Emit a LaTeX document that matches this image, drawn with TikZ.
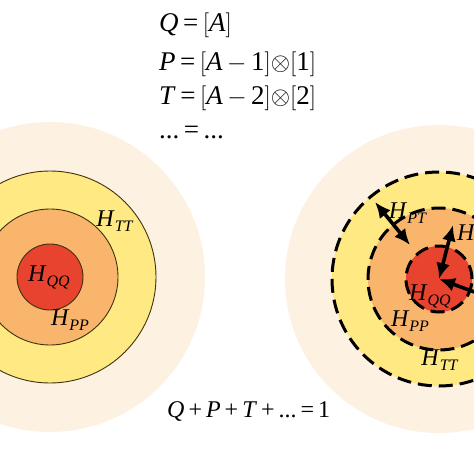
\documentclass[tikz,border=0pt]{standalone}
\usepackage{fontspec}
\setmainfont{Liberation Serif}
\usepackage{xcolor}
\usetikzlibrary{arrows.meta}
\usetikzlibrary{positioning}
\definecolor{peach}{HTML}{FDF1E2}
\definecolor{lemon}{HTML}{FEE982}
\definecolor{apricot}{HTML}{F9B56C}
\definecolor{brick}{HTML}{E8432F}
\definecolor{rim}{HTML}{3D3210}
\newcommand{\hlab}[1]{\textit{H}\raisebox{-5pt}{\fontsize{16}{16}\selectfont\textit{#1}}}
\newcommand{\itv}[1]{\textit{#1}}

\begin{document}
\begin{tikzpicture}[x=1pt,y=-1pt]
\tikzset{ring/.style={circle,inner sep=0pt,outer sep=0pt},
  solidring/.style={ring,draw=rim,line width=0.9pt},
  dashring/.style={ring,draw=black,line width=3pt,dash pattern=on 14pt off 7pt},
  eqn/.style={anchor=base west,inner sep=0pt,font=\fontsize{27}{32}\selectfont},
  hname/.style={inner sep=0pt,font=\fontsize{24}{28}\selectfont},
  link/.style={{Latex[length=16pt,width=14pt]}-{Latex[length=16pt,width=14pt]},line width=3.6pt},
  onelink/.style={-{Latex[length=16pt,width=14pt]},line width=3.6pt}}
\useasboundingbox (0,0) rectangle (474,474);
% left: sharp shells
\node[ring,fill=peach,minimum size=310pt](lout) at (50,277){};
\node[solidring,fill=lemon,minimum size=212pt](ltt) at (50,277){};
\node[solidring,fill=apricot,minimum size=136pt](lpp) at (50,277){};
\node[solidring,fill=brick,minimum size=66pt](lqq) at (50,277){};
% right: mixed shells
\node[ring,fill=peach,minimum size=308pt](rout) at (439,279){};
\node[dashring,fill=lemon,minimum size=214pt](rtt) at (439,279){};
\node[dashring,fill=apricot,minimum size=142pt](rpp) at (439,279){};
\node[dashring,fill=brick,minimum size=66pt](rqq) at (439,279){};
% equations
\node[eqn](eqQ) at (159,31){\itv{Q}\,=\,$\big[$\itv{A}$\big]$};
\node[eqn](eqP) at (159,70){\itv{P}\,=\,$\big[$\itv{A}\,$-$\,1$\big]{\otimes}\big[$1$\big]$};
\node[eqn](eqT) at (159,104){\itv{T}\,=\,$\big[$\itv{A}\,$-$\,2$\big]{\otimes}\big[$2$\big]$};
\node[eqn](eqD) at (159,138){...\,=\,...};
\node[eqn,font=\fontsize{24}{30}\selectfont](eqsum) at (167,417){\itv{Q}\,+\,\itv{P}\,+\,\itv{T}\,+\,...\,=\,1};
% labels
\node[hname](lqqlab) at (49,277){\hlab{QQ}};
\node[hname](lpplab) at (70,320){\hlab{PP}};
\node[hname](lttlab) at (115,221){\hlab{TT}};
\node[hname](rqqlab) at (430,296){\hlab{QQ}};
\node[hname](rpplab) at (410,321){\hlab{PP}};
\node[hname](rttlab) at (440,360){\hlab{TT}};
\node[hname](rptlab) at (408,213){\hlab{PT}};
\node[hname,anchor=base west](rqxlab) at (457,240){\itv{H}};
% couplings
\coordinate (ptA) at (375,202);
\coordinate (ptB) at (410,245);
\coordinate (qxA) at (453,225);
\coordinate (qxB) at (480,294);
\draw[link](ptA) -- (ptB);
\draw[link](qxA) -- (rqq.center);
\draw[onelink](qxB) -- (rqq.center);
\end{tikzpicture}
\end{document}
